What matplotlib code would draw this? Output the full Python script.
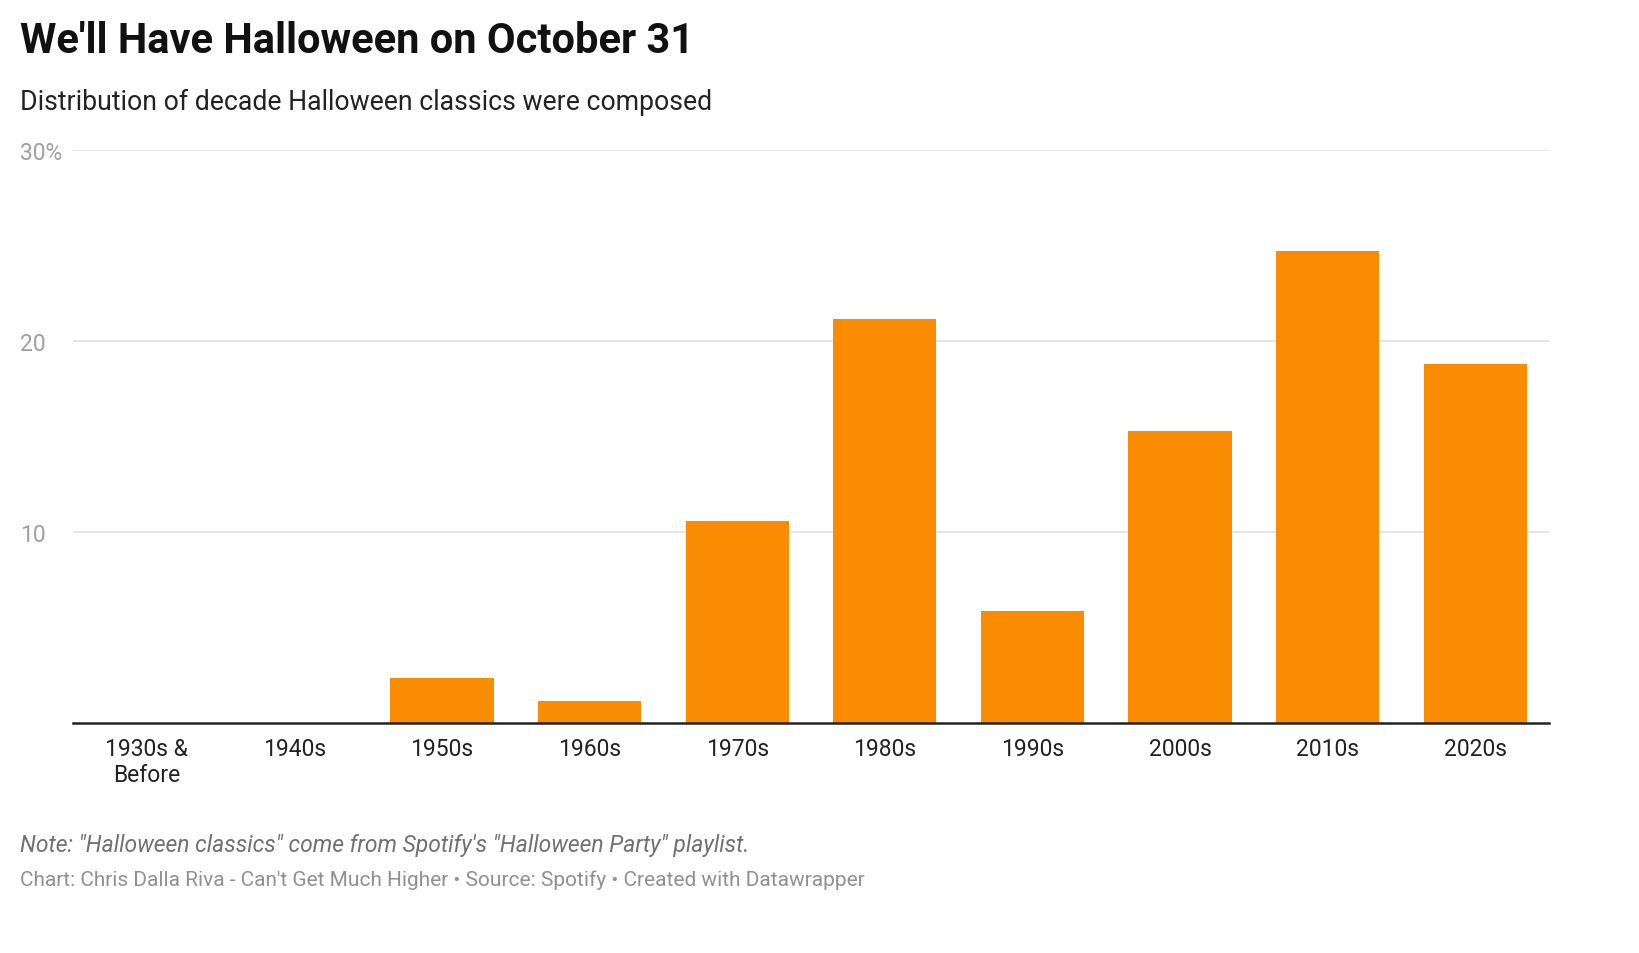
import matplotlib.pyplot as plt

# data
decades = ['1930s &\nBefore', '1940s', '1950s', '1960s', '1970s',
           '1980s', '1990s', '2000s', '2010s', '2020s']
shares = [0, 0, 2.35, 1.18, 10.59, 21.18, 5.88, 15.29, 24.71, 18.82]

plt.rcParams['font.family'] = ['Roboto', 'DejaVu Sans']

fig = plt.figure(figsize=(16.4, 9.54), dpi=100)
ax = fig.add_axes([0.0445, 0.241, 0.9, 0.6005])

x = range(len(decades))
ax.bar(x, shares, width=0.7, color='#f98c00', zorder=2)

ax.set_xlim(-0.5, len(decades) - 0.5)
ax.set_ylim(0, 30)
ax.set_yticks([10, 20, 30])
ax.set_yticklabels(['10', '20', '30%'])
ax.grid(axis='y', color='#e0e0e0', linewidth=1.2, zorder=0)
# labels start at the left edge of the figure, like datawrapper
ax.tick_params(axis='y', length=0, labelsize=16.5, labelcolor='#a0a0a0', pad=38)
for lab in ax.get_yticklabels():
    lab.set_horizontalalignment('left')

ax.set_xticks(list(x))
ax.set_xticklabels(decades, fontsize=16.5, color='#222222', linespacing=1.15)
ax.tick_params(axis='x', length=0, pad=10)

for s in ['top', 'right', 'left']:
    ax.spines[s].set_visible(False)
ax.spines['bottom'].set_color('#222222')
ax.spines['bottom'].set_linewidth(1.8)
ax.spines['bottom'].set_zorder(3)

fig.text(0.012, 0.956, "We'll Have Halloween on October 31", fontsize=30,
         fontweight='bold', color='#111111', va='center')
fig.text(0.012, 0.893, 'Distribution of decade Halloween classics were composed',
         fontsize=19.2, color='#222222', va='center')
fig.text(0.012, 0.114,
         'Note: "Halloween classics" come from Spotify\'s "Halloween Party" playlist.',
         fontsize=16.5, style='italic', color='#707070', va='center')
fig.text(0.012, 0.077,
         "Chart: Chris Dalla Riva - Can't Get Much Higher \u2022 Source: Spotify \u2022 Created with Datawrapper",
         fontsize=15, color='#909090', va='center')

fig.savefig('out.png', dpi=100)
